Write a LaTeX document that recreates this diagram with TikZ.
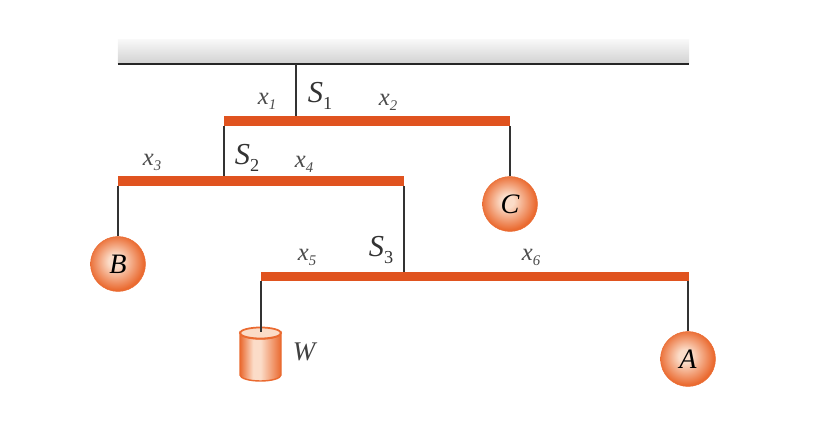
\documentclass[tikz,border=0pt]{standalone}
\usepackage{xcolor}
\usepackage{graphicx}
\usepackage{fontspec}
\setmainfont{Liberation Serif}
\definecolor{barorange}{HTML}{E0531F}
\definecolor{ballpeach}{HTML}{FBDCC8}
\definecolor{ballorange}{HTML}{EA6A30}
\definecolor{cordgrey}{HTML}{333333}
\definecolor{labelgrey}{HTML}{4A4A4A}
\pgfdeclareradialshading{ballshade}{\pgfpoint{-3bp}{3bp}}{
    color(0bp)=(ballpeach); color(6bp)=(ballpeach); color(25bp)=(ballorange); color(50bp)=(ballorange)}
\pgfdeclarehorizontalshading{weightshade}{100bp}{
    color(0bp)=(ballorange); color(25bp)=(ballorange); color(41bp)=(ballpeach);
    color(50bp)=(ballpeach); color(75bp)=(ballorange); color(100bp)=(ballorange)}
\newcommand{\withsub}[2]{\textit{#1}\raisebox{-0.45ex}{\scalebox{0.6}{#2}}}
\tikzset{
    beam/.style={rectangle,inner sep=0pt,minimum height=0.285cm,fill=barorange},
    cord/.style={line width=1.4pt,draw=cordgrey},
    ball/.style={circle,inner sep=0pt,minimum size=1.65cm,draw=ballorange,line width=0.4pt,
        shading=ballshade,font=\fontsize{24}{28}\selectfont\itshape},
    armlabel/.style={inner sep=0pt,text=labelgrey,font=\fontsize{21}{24}\selectfont},
    pivotlabel/.style={inner sep=0pt,text=black!80,font=\fontsize{26}{30}\selectfont},
}
\begin{document}
\begin{tikzpicture}[x=0.03cm,y=0.03cm]
    \useasboundingbox (0,0) rectangle (839,426);

    % Ceiling
    \node[rectangle,inner sep=0pt,minimum width=17.13cm,minimum height=0.72cm,
        top color=gray!6,bottom color=gray!36] (ceil) at (403.5,374) {};
    \draw[line width=1.3pt,draw=black!85] (ceil.south west) -- (ceil.south east);

    % Beams
    \node[beam,minimum width=8.58cm] (barone) at (367,305) {};
    \node[beam,minimum width=8.58cm] (bartwo) at (261,245) {};
    \node[beam,minimum width=12.84cm] (barthree) at (475,149.5) {};

    % Balls
    \node[ball] (ballC) at (510,222) {C};
    \node[ball] (ballB) at (118,162) {B};
    \node[ball] (ballA) at (688,67) {A};

    % Weight
    \shade[shading=weightshade,draw=ballorange,line width=1.2pt]
        (240,93) -- (240,51) arc[start angle=180,end angle=360,x radius=20.5,y radius=6]
        -- (281,93) arc[start angle=0,end angle=-180,x radius=20.5,y radius=6] -- cycle;
    \filldraw[fill=ballpeach,draw=ballorange,line width=1.5pt] (260.5,93) ellipse (20.5 and 5.5);
    \coordinate (wtop) at (261,94);
    \node[inner sep=0pt,text=black!75,font=\fontsize{23}{26}\selectfont\itshape] (wlabel) at (304,74) {W};

    % Cords between ceiling, beams and loads
    \coordinate (sonetop) at (296,362);
    \draw[cord] (sonetop) -- (sonetop |- barone.north);
    \draw[cord] (barone.south west) -- (barone.south west |- bartwo.north);
    \draw[cord] (ballC.north) -- (ballC.north |- barone.south);
    \draw[cord] (ballB.north) -- (ballB.north |- bartwo.south);
    \draw[cord] (bartwo.south east) -- (bartwo.south east |- barthree.north);
    \draw[cord] (wtop) -- (wtop |- barthree.south);
    \draw[cord] (ballA.north) -- (ballA.north |- barthree.south);

    % Lever arm labels
    \node[armlabel] (xone) at (267,325) {\withsub{x}{\textit{1}}};
    \node[armlabel] (xtwo) at (388,324) {\withsub{x}{\textit{2}}};
    \node[armlabel] (xthree) at (152,264) {\withsub{x}{\textit{3}}};
    \node[armlabel] (xfour) at (304,262) {\withsub{x}{\textit{4}}};
    \node[armlabel] (xfive) at (307,169) {\withsub{x}{\textit{5}}};
    \node[armlabel] (xsix) at (531,169) {\withsub{x}{\textit{6}}};

    % Pivot labels
    \node[pivotlabel] (sone) at (320,330) {\withsub{S}{1}};
    \node[pivotlabel] (stwo) at (247,268) {\withsub{S}{2}};
    \node[pivotlabel] (sthree) at (381,176) {\withsub{S}{3}};
\end{tikzpicture}
\end{document}
